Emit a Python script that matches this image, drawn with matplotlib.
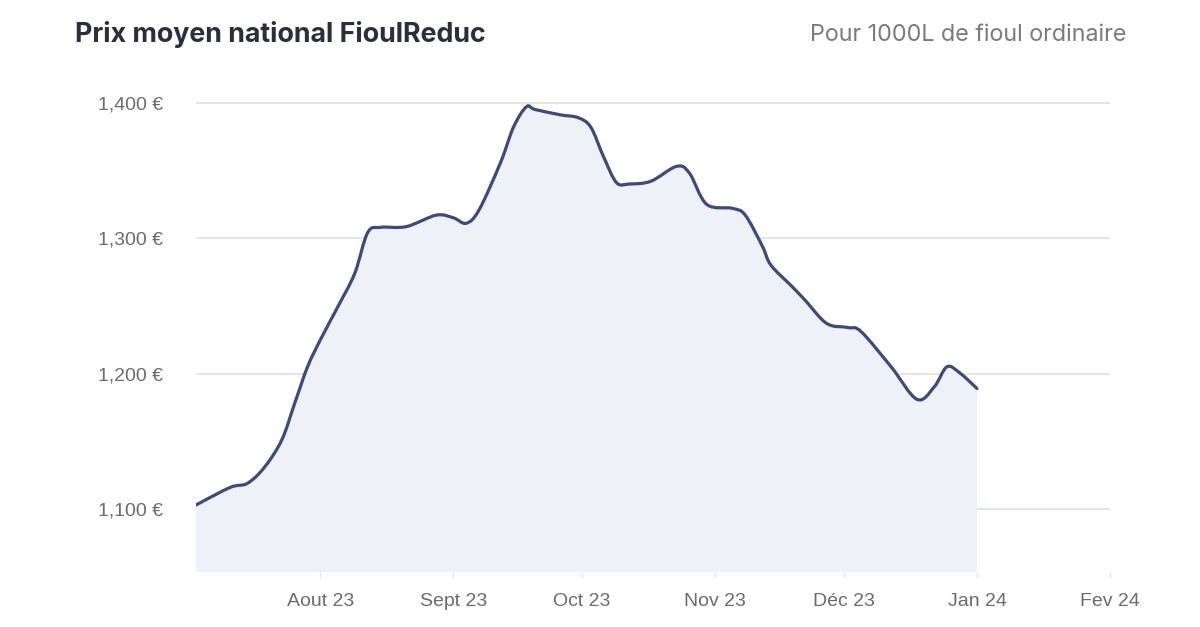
import matplotlib
matplotlib.use("Agg")
import matplotlib.pyplot as plt
import matplotlib.dates as mdates
import numpy as np
import pandas as pd
from matplotlib.path import Path
from matplotlib.patches import PathPatch
from matplotlib.ticker import FuncFormatter

# prix moyen (EUR pour 1000L)
dates = ["2023-07-03", "2023-07-11", "2023-07-15", "2023-07-19", "2023-07-23",
         "2023-07-26", "2023-07-29", "2023-08-01", "2023-08-05", "2023-08-09",
         "2023-08-12", "2023-08-15", "2023-08-21", "2023-08-28", "2023-09-01",
         "2023-09-04", "2023-09-07", "2023-09-12", "2023-09-15", "2023-09-18",
         "2023-09-20", "2023-09-26", "2023-09-30", "2023-10-03", "2023-10-06",
         "2023-10-09", "2023-10-12", "2023-10-17", "2023-10-23", "2023-10-26",
         "2023-10-30", "2023-11-05", "2023-11-08", "2023-11-12", "2023-11-14",
         "2023-11-19", "2023-11-22", "2023-11-27", "2023-12-02", "2023-12-05",
         "2023-12-12", "2023-12-18", "2023-12-22", "2023-12-25", "2023-12-28",
         "2024-01-01"]
prices = [1103, 1116, 1119, 1131, 1151,
          1178, 1205, 1225, 1249, 1274,
          1304, 1308, 1308.5, 1317, 1315,
          1311, 1321, 1356, 1382, 1397,
          1395, 1391, 1389, 1382, 1360,
          1341, 1340, 1342, 1353, 1348,
          1325, 1322, 1317, 1294, 1280,
          1264, 1254, 1237, 1234, 1231,
          1205, 1181, 1190, 1205, 1200.5,
          1189]

month_ticks = ["2023-08-01", "2023-09-01", "2023-10-01", "2023-11-01",
               "2023-12-01", "2024-01-01", "2024-02-01"]
month_labels = ["Aout 23", "Sept 23", "Oct 23", "Nov 23", "Déc 23", "Jan 24", "Fev 24"]
y_ticks = [1100, 1200, 1300, 1400]

x = mdates.date2num(pd.to_datetime(dates))
y = np.array(prices, dtype=float)
ticks = pd.to_datetime(month_ticks)


def smooth_path(xs, ys):
    # catmull-rom -> bezier, the curve passes through every data point
    verts = [(xs[0], ys[0])]
    codes = [Path.MOVETO]
    n = len(xs)
    for i in range(n - 1):
        p0 = (xs[max(i - 1, 0)], ys[max(i - 1, 0)])
        p1 = (xs[i], ys[i])
        p2 = (xs[i + 1], ys[i + 1])
        p3 = (xs[min(i + 2, n - 1)], ys[min(i + 2, n - 1)])
        c1 = (p1[0] + (p2[0] - p0[0]) / 6, p1[1] + (p2[1] - p0[1]) / 6)
        c2 = (p2[0] - (p3[0] - p1[0]) / 6, p2[1] - (p3[1] - p1[1]) / 6)
        verts += [c1, c2, p2]
        codes += [Path.CURVE4] * 3
    return verts, codes


fig = plt.figure(figsize=(12, 6.27), dpi=100)
ax = fig.add_axes([0.1633, 0.0877, 0.7617, 0.7593])

verts, codes = smooth_path(x, y)
base = 1000
fill_verts = verts + [(x[-1], base), (x[0], base), (x[0], y[0])]
fill_codes = codes + [Path.LINETO, Path.LINETO, Path.CLOSEPOLY]
ax.add_patch(PathPatch(Path(fill_verts, fill_codes), facecolor="#eef1f8",
                       edgecolor="none", zorder=2))
ax.add_patch(PathPatch(Path(verts, codes), facecolor="none", edgecolor="#3e4a78",
                       lw=2.3, capstyle="round", joinstyle="round", zorder=3))

ax.set_xlim(pd.Timestamp("2023-07-03"), pd.Timestamp("2024-02-01"))
ax.set_ylim(1053.5, 1405)

ax.set_yticks(y_ticks)
ax.yaxis.set_major_formatter(FuncFormatter(lambda v, p: f"{int(v):,} €"))
ax.grid(axis="y", color="#dfe0e4", lw=1.2, zorder=1)
ax.set_xticks(ticks)
ax.set_xticklabels(month_labels)

for s in ax.spines.values():
    s.set_visible(False)
ax.tick_params(axis="y", length=0, pad=24, labelsize=14, labelcolor="#6b6b70")
ax.tick_params(axis="x", length=4, width=1, color="#e4e6ec", pad=11,
               labelsize=14, labelcolor="#6b6b70")
for lab in ax.get_xticklabels() + ax.get_yticklabels():
    lab.set_family("Liberation Sans")

fig.text(75 / 1200, 1 - 35 / 627, "Prix moyen national FioulReduc", family="Inter",
         fontweight="bold", fontsize=19.3, color="#2a2e40", va="center", ha="left")
fig.text(1126 / 1200, 1 - 35 / 627, "Pour 1000L de fioul ordinaire", family="Inter",
         fontsize=16.8, color="#7a7a80", va="center", ha="right")

fig.savefig("out.png", dpi=100)
